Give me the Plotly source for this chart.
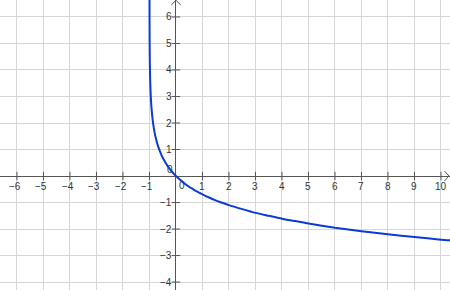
import plotly.graph_objects as go

# Curve points
curve_x = [-0.9987, -0.9983, -0.998, -0.997, -0.996, -0.995, -0.993, -0.991, -0.99, -0.988, -0.985,
           -0.982, -0.98, -0.977, -0.975, -0.972, -0.97, -0.966, -0.963, -0.96, -0.955, -0.95,
           -0.945, -0.94, -0.935, -0.93, -0.925, -0.92, -0.91, -0.9, -0.89, -0.88, -0.865, -0.85,
           -0.83, -0.81, -0.8, -0.78, -0.75, -0.72, -0.7, -0.65, -0.6,
           -0.55, -0.5, -0.45, -0.4, -0.35, -0.3, -0.25, -0.2, -0.15, -0.1, -0.05, 0.0,
           0.1, 0.25, 0.4, 0.5, 0.6, 0.75, 1.0, 1.25, 1.5, 1.75, 2.0, 2.5, 3.0, 3.5, 4.0,
           4.5, 5.0, 6.0, 7.0, 8.0, 9.0, 10.0, 10.4]
curve_y = [6.64, 6.38, 6.21, 5.81, 5.52, 5.30, 4.96, 4.71, 4.61, 4.42, 4.20,
           4.02, 3.91, 3.79, 3.69, 3.58, 3.51, 3.41, 3.32, 3.22, 3.10, 3.00,
           2.90, 2.81, 2.73, 2.66, 2.59, 2.53, 2.41, 2.30, 2.21, 2.12, 2.00, 1.90,
           1.77, 1.66, 1.61, 1.51, 1.39, 1.27, 1.20, 1.05, 0.92,
           0.80, 0.69, 0.60, 0.51, 0.43, 0.36, 0.29, 0.22, 0.16, 0.105, 0.05, 0.0,
           -0.095, -0.22, -0.34, -0.41, -0.47, -0.56, -0.69, -0.81, -0.92, -1.01, -1.10, -1.25, -1.39, -1.50, -1.61,
           -1.70, -1.79, -1.95, -2.08, -2.20, -2.30, -2.40, -2.43]

x_ticks = [-6, -5, -4, -3, -2, -1, 1, 2, 3, 4, 5, 6, 7, 8, 9, 10]
y_ticks = [-4, -3, -2, -1, 1, 2, 3, 4, 5, 6]
x_labels = ["\u22126", "\u22125", "\u22124", "\u22123", "\u22122", "\u22121", "1", "2", "3", "4", "5", "6", "7", "8", "9", "10"]
y_labels = ["\u22124", "\u22123", "\u22122", "\u22121", "1", "2", "3", "4", "5", "6"]

XR = [-6.64, 10.34]
YR = [-4.30, 6.64]
axis_col = "#555555"
font = dict(family="Liberation Sans, Arial, sans-serif", size=10, color="#333333")

fig = go.Figure()

# tick marks on axes
fig.add_trace(go.Scatter(x=x_ticks, y=[0]*len(x_ticks), mode="markers",
                         marker=dict(symbol="line-ns", size=6, line=dict(color=axis_col, width=1)),
                         hoverinfo="skip", showlegend=False))
fig.add_trace(go.Scatter(x=[0]*len(y_ticks), y=y_ticks, mode="markers",
                         marker=dict(symbol="line-ew", size=6, line=dict(color=axis_col, width=1)),
                         hoverinfo="skip", showlegend=False))

fig.add_trace(go.Scatter(x=curve_x, y=curve_y, mode="lines", line_shape="spline",
                         line=dict(color="#0a3bd6", width=2, smoothing=0.6),
                         hoverinfo="skip", showlegend=False))

annotations = []
for v, t in zip(x_ticks, x_labels):
    annotations.append(dict(x=v, y=0, text=t, showarrow=False, xanchor="center", yanchor="top",
                            yshift=-3, xshift=-2 if v < 0 else 0, font=font))
for v, t in zip(y_ticks, y_labels):
    annotations.append(dict(x=0, y=v, text=t, showarrow=False, xanchor="right", yanchor="middle",
                            xshift=-2, font=font))
annotations.append(dict(x=0, y=0, text="0", showarrow=False, xanchor="right", yanchor="bottom",
                        xshift=-1, yshift=-1, font=font))
annotations.append(dict(x=0, y=0, text="0", showarrow=False, xanchor="left", yanchor="top",
                        xshift=1, yshift=-2, font=font))

shapes = [
    # axis arrows (chevrons) at the ends of the axes, in paper coords
    dict(type="path", xref="paper", yref="paper",
         path="M 0.9878,0.410 L 0.9978,0.393 L 0.9878,0.376", line=dict(color=axis_col, width=1)),
    dict(type="path", xref="paper", yref="paper",
         path="M 0.3805,0.983 L 0.3911,0.999 L 0.4017,0.983", line=dict(color=axis_col, width=1)),
]

fig.update_layout(
    width=450, height=290, margin=dict(l=0, r=0, t=0, b=0),
    paper_bgcolor="white", plot_bgcolor="white",
    xaxis=dict(range=XR, dtick=1, tick0=0, showgrid=True, gridcolor="#d6d6d6", gridwidth=1,
               zeroline=True, zerolinecolor=axis_col, zerolinewidth=1,
               showticklabels=False, ticks="", fixedrange=True),
    yaxis=dict(range=YR, dtick=1, tick0=0, showgrid=True, gridcolor="#d6d6d6", gridwidth=1,
               zeroline=True, zerolinecolor=axis_col, zerolinewidth=1,
               showticklabels=False, ticks="", fixedrange=True),
    annotations=annotations, shapes=shapes,
)

fig.write_html("out.html", config={"displayModeBar": False})
